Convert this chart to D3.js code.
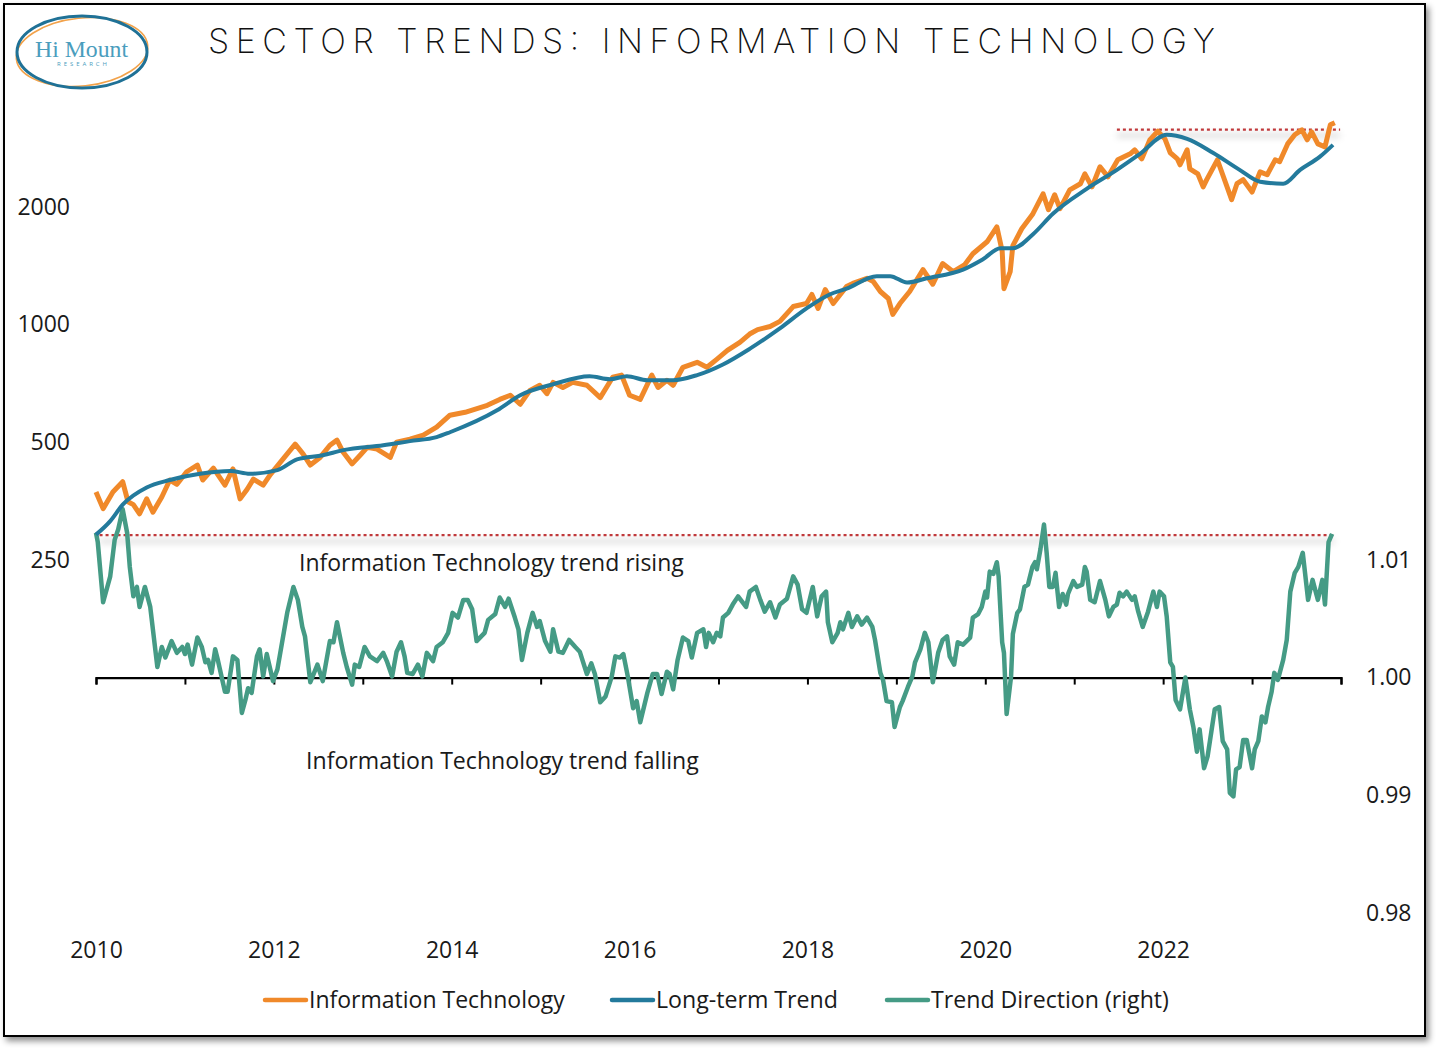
<!DOCTYPE html>
<html>
<head>
<meta charset="utf-8">
<script src="https://cdn.jsdelivr.net/npm/d3@7"></script>
<style>
  body { margin: 0; background: #fff; }
  text { font-family: 'Open Sans', sans-serif; }
</style>
</head>
<body>
<svg id="chart" width="1438" height="1049"></svg>
<script>
var WIDTH = 1438;
var HEIGHT = 1049;

// Information Technology sector index (left, log axis)
var itDates = [2010.00,2010.08,2010.19,2010.30,2010.36,2010.42,2010.49,2010.57,2010.64,2010.74,2010.83,2010.91,
  2011.02,2011.14,2011.20,2011.32,2011.45,2011.54,2011.62,2011.70,2011.77,2011.88,2011.96,
  2012.07,2012.24,2012.33,2012.41,2012.52,2012.63,2012.71,2012.78,2012.88,2012.97,
  2013.05,2013.16,2013.31,2013.38,2013.53,2013.68,2013.83,2013.98,
  2014.15,2014.40,2014.54,2014.66,2014.77,2014.88,2014.99,
  2015.07,2015.14,2015.25,2015.36,2015.52,2015.67,2015.81,2015.91,
  2016.00,2016.12,2016.25,2016.32,2016.42,2016.49,2016.60,2016.76,2016.87,2016.98,
  2017.10,2017.24,2017.35,2017.44,2017.58,2017.69,2017.84,2017.99,
  2018.05,2018.12,2018.20,2018.29,2018.44,2018.51,2018.67,2018.74,2018.82,2018.91,2018.96,
  2019.04,2019.15,2019.30,2019.41,2019.52,2019.64,2019.77,2019.86,
  2020.02,2020.13,2020.19,2020.21,2020.28,2020.31,2020.41,2020.53,2020.65,2020.71,2020.78,2020.84,2020.95,
  2021.07,2021.12,2021.20,2021.29,2021.38,2021.49,2021.63,2021.68,2021.76,2021.85,2021.94,
  2022.02,2022.08,2022.16,2022.19,2022.27,2022.30,2022.39,2022.45,2022.49,2022.61,2022.67,2022.77,2022.83,2022.90,
  2023.00,2023.09,2023.17,2023.26,2023.31,2023.40,2023.48,2023.56,2023.62,2023.67,2023.74,2023.82,2023.88,2023.93];
var itValues = [373,338,373,396,352,346,328,358,331,362,400,390,
  420,437,400,429,388,427,358,379,402,388,413,
  443,494,466,437,457,491,506,471,440,463,
  485,480,457,500,509,521,546,586,
  596,621,643,659,625,678,699,
  665,711,690,711,699,650,733,742,
  659,643,742,690,720,699,777,800,777,814,
  858,900,945,970,988,1018,1111,1131,
  1193,1099,1228,1131,1250,1273,1312,1288,1214,1165,1061,
  1131,1214,1381,1267,1431,1364,1423,1516,
  1627,1777,1540,1234,1364,1591,1757,1910,2158,1965,2146,1977,2208,
  2290,2427,2248,2530,2385,2636,2731,2795,2651,2964,3120,
  2982,2748,2651,2560,2795,2500,2427,2248,2345,2636,2414,2085,2290,2345,
  2181,2456,2414,2636,2606,2895,3054,3145,2964,3108,2895,2845,3240,3280];

// Long-term trend (left, log axis)
var trendDates = [2010.00,2010.16,2010.30,2010.57,2010.83,2011.17,2011.51,2011.73,
  2012.04,2012.26,2012.55,2012.78,2013.23,2013.53,2013.83,2013.98,2014.51,2014.77,
  2015.14,2015.55,2015.78,2015.97,2016.20,2016.49,2016.76,2017.05,2017.35,2017.69,2017.99,
  2018.25,2018.44,2018.78,2018.93,2019.12,2019.34,2019.75,2019.97,2020.17,2020.31,2020.54,2020.76,
  2021.14,2021.48,2021.74,2022.04,2022.27,2022.56,2022.86,2023.09,2023.35,2023.54,2023.76,2023.91];
var trendValues = [290,314,346,383,400,415,422,415,
  424,452,463,477,491,503,515,530,603,659,
  703,737,724,737,720,720,742,790,866,977,1099,
  1193,1234,1329,1329,1280,1312,1381,1466,1566,1566,1704,1919,
  2222,2485,2731,3054,2982,2748,2485,2317,2290,2485,2682,2879];

// Trend direction (right axis)
var dirDates = [
  2010.00,2010.02,2010.08,2010.16,2010.21,2010.25,2010.30,2010.35,2010.38,2010.42,2010.46,2010.49,2010.55,2010.61,2010.69,2010.74,2010.78,2010.85,2010.91,2010.97,
  2011.00,2011.03,2011.08,2011.14,2011.19,2011.23,2011.26,2011.30,2011.34,2011.37,2011.45,2011.48,2011.54,2011.59,2011.64,2011.68,2011.71,2011.75,2011.81,2011.84,2011.88,2011.92,2011.99,
  2012.04,2012.15,2012.22,2012.27,2012.32,2012.35,2012.41,2012.49,2012.55,2012.63,2012.67,2012.71,2012.78,2012.82,2012.88,2012.91,2012.96,
  2013.02,2013.08,2013.16,2013.23,2013.27,2013.33,2013.38,2013.43,2013.47,2013.50,2013.56,2013.62,2013.67,2013.72,2013.79,2013.83,2013.90,2013.96,
  2014.01,2014.07,2014.13,2014.18,2014.23,2014.28,2014.37,2014.41,2014.49,2014.54,2014.60,2014.64,2014.71,2014.75,2014.79,2014.85,2014.91,2014.96,2014.99,
  2015.05,2015.11,2015.14,2015.20,2015.25,2015.32,2015.39,2015.44,2015.52,2015.57,2015.61,2015.67,2015.73,2015.80,2015.84,2015.89,2015.93,2015.98,
  2016.04,2016.08,2016.12,2016.20,2016.26,2016.31,2016.36,2016.42,2016.45,2016.49,2016.54,2016.60,2016.66,2016.70,2016.76,2016.83,2016.86,2016.89,2016.94,2016.98,
  2017.02,2017.05,2017.11,2017.16,2017.22,2017.31,2017.35,2017.42,2017.47,2017.52,2017.58,2017.64,2017.69,2017.77,2017.84,2017.89,2017.94,2017.99,
  2018.06,2018.11,2018.16,2018.21,2018.23,2018.28,2018.34,2018.37,2018.40,2018.46,2018.50,2018.56,2018.61,2018.67,2018.73,2018.76,2018.82,2018.85,2018.89,2018.95,2018.98,
  2019.04,2019.07,2019.13,2019.18,2019.21,2019.27,2019.32,2019.36,2019.41,2019.47,2019.52,2019.57,2019.60,2019.65,2019.69,2019.75,2019.83,2019.86,2019.92,2019.96,
  2020.00,2020.02,2020.05,2020.09,2020.13,2020.15,2020.19,2020.21,2020.24,2020.29,2020.31,2020.36,2020.39,2020.44,2020.48,2020.53,2020.56,2020.58,2020.62,2020.66,2020.69,2020.72,2020.76,2020.79,2020.83,2020.87,2020.91,2020.93,2020.99,
  2021.03,2021.09,2021.12,2021.14,2021.18,2021.23,2021.29,2021.35,2021.39,2021.44,2021.48,2021.51,2021.55,2021.59,2021.65,2021.68,2021.72,2021.77,2021.83,2021.89,2021.93,2021.96,
  2022.01,2022.04,2022.08,2022.11,2022.14,2022.19,2022.25,2022.30,2022.34,2022.38,2022.41,2022.46,2022.50,2022.58,2022.63,2022.67,2022.72,2022.75,2022.79,2022.82,2022.86,2022.90,2022.94,
  2023.00,2023.03,2023.07,2023.11,2023.15,2023.18,2023.22,2023.25,2023.29,2023.35,2023.39,2023.43,2023.48,2023.52,2023.57,2023.63,2023.68,2023.74,2023.79,2023.82,2023.86,2023.90];
var dirValues = [
  1.0123,1.0115,1.0064,1.0086,1.0117,1.0126,1.0143,1.0123,1.0094,1.0069,1.0077,1.0060,1.0077,1.0060,1.0009,1.0026,1.0017,1.0031,1.0021,1.0026,
  1.0020,1.0028,1.0011,1.0034,1.0026,1.0013,1.0015,1.0004,1.0024,1.0015,0.9988,0.9988,1.0018,1.0015,0.9970,0.9981,0.9991,0.9987,1.0018,1.0024,1.0001,1.0020,0.9997,
  1.0007,1.0055,1.0077,1.0066,1.0043,1.0035,0.9996,1.0011,0.9997,1.0031,1.0030,1.0047,1.0021,1.0009,0.9994,1.0011,1.0009,
  1.0026,1.0018,1.0014,1.0021,1.0014,1.0001,1.0022,1.0030,1.0018,1.0004,1.0003,1.0011,1.0001,1.0021,1.0014,1.0026,1.0030,1.0038,
  1.0055,1.0051,1.0066,1.0066,1.0058,1.0031,1.0038,1.0049,1.0054,1.0068,1.0060,1.0067,1.0051,1.0041,1.0015,1.0038,1.0055,1.0043,1.0048,
  1.0031,1.0022,1.0041,1.0022,1.0021,1.0032,1.0026,1.0022,1.0003,1.0012,1.0003,0.9979,0.9984,1.0001,1.0018,1.0017,1.0020,1.0001,
  0.9974,0.9980,0.9962,0.9987,1.0003,1.0003,0.9986,1.0005,1.0003,0.9990,1.0015,1.0034,1.0031,1.0017,1.0038,1.0041,1.0026,1.0038,1.0030,1.0038,
  1.0035,1.0051,1.0055,1.0062,1.0069,1.0060,1.0073,1.0077,1.0066,1.0056,1.0064,1.0051,1.0062,1.0067,1.0086,1.0079,1.0058,1.0055,
  1.0077,1.0052,1.0069,1.0073,1.0047,1.0030,1.0038,1.0047,1.0041,1.0055,1.0043,1.0052,1.0045,1.0051,1.0043,1.0032,1.0004,0.9998,0.9980,0.9979,0.9958,
  0.9975,0.9980,0.9992,1.0001,1.0013,1.0024,1.0038,1.0030,0.9996,1.0021,1.0032,1.0035,1.0018,1.0011,1.0030,1.0028,1.0034,1.0051,1.0054,1.0060,
  1.0073,1.0068,1.0090,1.0088,1.0098,1.0086,1.0030,1.0021,0.9969,1.0001,1.0037,1.0055,1.0058,1.0077,1.0079,1.0094,1.0098,1.0092,1.0109,1.0130,1.0106,1.0077,1.0077,1.0089,1.0060,1.0071,1.0062,1.0071,1.0082,
  1.0077,1.0079,1.0094,1.0090,1.0066,1.0064,1.0082,1.0066,1.0052,1.0060,1.0062,1.0072,1.0069,1.0073,1.0066,1.0069,1.0056,1.0043,1.0056,1.0073,1.0060,1.0073,
  1.0069,1.0052,1.0013,1.0009,0.9981,0.9973,1.0000,0.9973,0.9958,0.9937,0.9956,0.9923,0.9933,0.9973,0.9975,0.9946,0.9939,0.9902,0.9899,0.9922,0.9924,0.9947,0.9947,
  0.9923,0.9939,0.9946,0.9967,0.9962,0.9975,0.9988,1.0004,0.9998,1.0015,1.0032,1.0073,1.0089,1.0094,1.0106,1.0066,1.0083,1.0066,1.0083,1.0062,1.0115,1.0122];

var leftTicks = [250, 500, 1000, 2000];
var rightTicks = [0.98, 0.99, 1.00, 1.01];
var yearTicks = [2010,2011,2012,2013,2014,2015,2016,2017,2018,2019,2020,2021,2022,2023,2024];
var yearLabels = [2010, 2012, 2014, 2016, 2018, 2020, 2022];
var priceHighLevel = 3150;
var priceHighSpan = [2021.48, 2023.99];
var dirHighLevel = 1.0121;
var dirHighSpan = [2010.04, 2023.93];
var seriesNames = ['Information Technology', 'Long-term Trend', 'Trend Direction (right)'];
var seriesColors = ['#F0892A', '#237A9C', '#459B85'];

var svg = d3.select('#chart');
var defs = svg.append('defs');

var frameShadow = defs.append('filter').attr('id', 'frameShadow')
  .attr('x', '-5%').attr('y', '-5%').attr('width', '110%').attr('height', '110%');
frameShadow.append('feDropShadow').attr('dx', 3).attr('dy', 4)
  .attr('stdDeviation', 3).attr('flood-color', '#000').attr('flood-opacity', 0.45);

var blur = defs.append('filter').attr('id', 'blur')
  .attr('filterUnits', 'userSpaceOnUse')
  .attr('x', 0).attr('y', 0).attr('width', WIDTH).attr('height', HEIGHT);
blur.append('feGaussianBlur').attr('stdDeviation', 3);

// frame
svg.append('rect')
  .attr('x', 4).attr('y', 4).attr('width', 1421).attr('height', 1032)
  .attr('fill', '#fff').attr('stroke', '#000').attr('stroke-width', 2)
  .attr('filter', 'url(#frameShadow)');

// logo
var logo = svg.append('g');
logo.append('ellipse').attr('cx', 82).attr('cy', 52).attr('rx', 66).attr('ry', 34)
  .attr('transform', 'rotate(-6 82 52)')
  .attr('fill', 'none').attr('stroke', '#F2A24A').attr('stroke-width', 1.6);
logo.append('ellipse').attr('cx', 82).attr('cy', 52).attr('rx', 65).attr('ry', 36)
  .attr('fill', 'none').attr('stroke', '#1F7196').attr('stroke-width', 3);
logo.append('text').attr('x', 35).attr('y', 57)
  .style('font-family', "'Liberation Serif', serif").attr('font-size', 23)
  .attr('textLength', 93).attr('lengthAdjust', 'spacingAndGlyphs')
  .attr('fill', '#4A9DBD').text('Hi Mount');
logo.append('text').attr('x', 57).attr('y', 65.5)
  .attr('font-size', 6).attr('textLength', 50).attr('lengthAdjust', 'spacing')
  .attr('fill', '#4A9DBD').text('RESEARCH');

// title
svg.append('text')
  .attr('x', 208).attr('y', 53)
  .style('font-family', "Inter, 'Open Sans', sans-serif")
  .attr('font-weight', 200).attr('font-size', 34)
  .attr('textLength', 1007).attr('lengthAdjust', 'spacing')
  .attr('fill', '#111')
  .text('SECTOR TRENDS: INFORMATION TECHNOLOGY');

// scales
var x = d3.scaleLinear().domain([2010, 2024]).range([96, 1341]);
var yLeft = d3.scaleLog().base(2).domain([31.25, 4000]).range([913, 89]);
var yRight = d3.scaleLinear().domain([0.98, 1.05]).range([913, 89]);

function styleLabels(g) {
  g.select('.domain').remove();
  g.selectAll('text').attr('font-size', 23).attr('fill', '#1a1a1a')
    .style('font-family', "'Open Sans', sans-serif");
}

// left axis labels
svg.append('g')
  .attr('transform', 'translate(70,0)')
  .call(d3.axisLeft(yLeft).tickValues(leftTicks).tickSize(0).tickPadding(0)
    .tickFormat(d3.format('d')))
  .call(styleLabels);

// right axis labels
svg.append('g')
  .attr('transform', 'translate(1366,0)')
  .call(d3.axisRight(yRight).tickValues(rightTicks).tickSize(0).tickPadding(0)
    .tickFormat(d3.format('.2f')))
  .call(styleLabels);

// year labels at the bottom
svg.append('g')
  .attr('transform', 'translate(0,942)')
  .call(d3.axisBottom(x).tickValues(yearLabels).tickSize(0).tickPadding(0)
    .tickFormat(d3.format('d')))
  .call(styleLabels);

// annotations
function fitText(sel, target) {
  var w = sel.node().getComputedTextLength();
  var fs = parseFloat(sel.attr('font-size'));
  sel.attr('font-size', fs * target / w);
}
var rising = svg.append('text').attr('x', 299).attr('y', 571)
  .attr('font-size', 23).attr('fill', '#1a1a1a')
  .text('Information Technology trend rising');
fitText(rising, 385);
var falling = svg.append('text').attr('x', 306).attr('y', 769)
  .attr('font-size', 23).attr('fill', '#1a1a1a')
  .text('Information Technology trend falling');
fitText(falling, 393);

// high-water marks, with a soft grey shadow under each
function highMark(x1, x2, y) {
  svg.append('line')
    .attr('x1', x1).attr('x2', x2).attr('y1', y + 6).attr('y2', y + 6)
    .attr('stroke', '#000').attr('stroke-opacity', 0.12).attr('stroke-width', 5)
    .attr('filter', 'url(#blur)');
  svg.append('line')
    .attr('x1', x1).attr('x2', x2).attr('y1', y).attr('y2', y)
    .attr('stroke', '#C0393B').attr('stroke-width', 2.2).attr('stroke-dasharray', '3,3');
}
highMark(x(dirHighSpan[0]), x(dirHighSpan[1]), yRight(dirHighLevel));
highMark(x(priceHighSpan[0]), x(priceHighSpan[1]), yLeft(priceHighLevel));

// series
var dirData = dirDates.map(function(d, i) { return [d, dirValues[i]]; });
var itData = itDates.map(function(d, i) { return [d, itValues[i]]; });
var trendData = trendDates.map(function(d, i) { return [d, trendValues[i]]; });

var dirLine = d3.line()
  .x(function(d) { return x(d[0]); })
  .y(function(d) { return yRight(d[1]); });
var itLine = d3.line()
  .x(function(d) { return x(d[0]); })
  .y(function(d) { return yLeft(d[1]); });
var trendLine = d3.line()
  .curve(d3.curveMonotoneX)
  .x(function(d) { return x(d[0]); })
  .y(function(d) { return yLeft(d[1]); });

// horizontal axis crossing at 1.00 on the right scale
svg.append('g')
  .attr('transform', 'translate(0,' + yRight(1) + ')')
  .call(d3.axisBottom(x).tickValues(yearTicks).tickSize(7).tickFormat(''))
  .call(function(g) {
    g.select('.domain').attr('stroke', '#000').attr('stroke-width', 2.2);
    g.selectAll('.tick line').attr('stroke', '#000').attr('stroke-width', 2);
  });

svg.append('path').datum(dirData)
  .attr('d', dirLine).attr('fill', 'none')
  .attr('stroke', seriesColors[2]).attr('stroke-width', 4.5)
  .attr('stroke-linejoin', 'round');
svg.append('path').datum(itData)
  .attr('d', itLine).attr('fill', 'none')
  .attr('stroke', seriesColors[0]).attr('stroke-width', 5)
  .attr('stroke-linejoin', 'round');
svg.append('path').datum(trendData)
  .attr('d', trendLine).attr('fill', 'none')
  .attr('stroke', seriesColors[1]).attr('stroke-width', 4)
  .attr('stroke-linejoin', 'round');

// legend
var legendX = [265, 612, 887];
var legendW = [256, 182, 238];
var legend = svg.append('g');
seriesNames.forEach(function(name, i) {
  legend.append('line')
    .attr('x1', legendX[i]).attr('x2', legendX[i] + 41)
    .attr('y1', 1000).attr('y2', 1000)
    .attr('stroke', seriesColors[i]).attr('stroke-width', 4.5)
    .attr('stroke-linecap', 'round');
  var t = legend.append('text')
    .attr('x', legendX[i] + 44).attr('y', 1008)
    .attr('font-size', 23).attr('fill', '#1a1a1a').text(name);
  fitText(t, legendW[i]);
});
</script>
</body>
</html>
